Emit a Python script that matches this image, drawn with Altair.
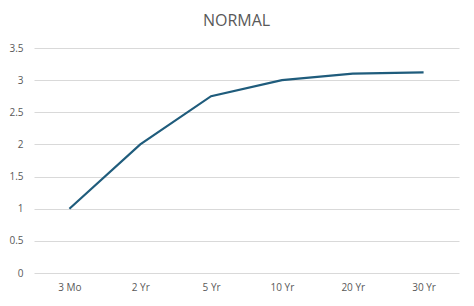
import altair as alt
import pandas as pd

maturities = ["3 Mo", "2 Yr", "5 Yr", "10 Yr", "20 Yr", "30 Yr"]
yields = [1.0, 2.0, 2.75, 3.0, 3.1, 3.12]
y_ticks = [0, 0.5, 1, 1.5, 2, 2.5, 3, 3.5]

df = pd.DataFrame({"maturity": maturities, "yield": yields})

font = "Open Sans"
grey = "#595959"

chart = alt.Chart(df).mark_line(color="#1f5c7c", strokeWidth=2.2).encode(
    x=alt.X("maturity:N", sort=maturities,
            scale=alt.Scale(padding=0.5),
            axis=alt.Axis(title=None, labelAngle=0, ticks=False, domain=False,
                          labelPadding=9, labelFontSize=10, labelColor=grey,
                          labelFont=font, grid=False)),
    y=alt.Y("yield:Q", scale=alt.Scale(domain=[0, 3.5], nice=False),
            axis=alt.Axis(title=None, values=y_ticks, ticks=False, domain=False,
                          labelPadding=11, labelFontSize=10, labelColor=grey,
                          labelFont=font, gridColor="#d9d9d9", gridWidth=1,
                          format="~g")),
).properties(
    width=425, height=225,
    background="white",
    title=alt.TitleParams("NORMAL", fontSize=16, font=font, color=grey,
                          fontWeight="normal", anchor="middle", dx=-10, offset=14),
    autosize=alt.AutoSizeParams(type="none"),
    padding={"left": 34, "top": 48, "right": 15, "bottom": 33},
).configure_view(stroke=None)

chart.save("out.html", embed_options={"renderer": "svg", "actions": False})
